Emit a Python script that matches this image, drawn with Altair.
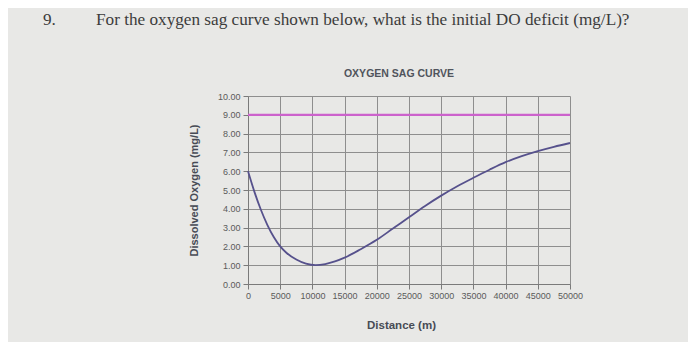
import altair as alt
import pandas as pd

# ---- data ----
distance_m = [0, 1000, 2000, 3000, 4000, 5000, 6000, 7500, 9000, 10500, 12000,
              13500, 15000, 17500, 20000, 22500, 25000, 27500, 30000, 32500,
              35000, 37500, 40000, 42500, 45000, 47500, 50000]
do_mg_l = [6.0, 4.9, 3.95, 3.15, 2.5, 2.0, 1.65, 1.3, 1.08, 1.0, 1.06,
           1.2, 1.4, 1.85, 2.35, 2.95, 3.55, 4.15, 4.7, 5.2,
           5.65, 6.08, 6.48, 6.8, 7.07, 7.3, 7.5]
saturation_do = 9.0
x_ticks = [0, 5000, 10000, 15000, 20000, 25000, 30000, 35000, 40000, 45000, 50000]
y_ticks = [0, 1, 2, 3, 4, 5, 6, 7, 8, 9, 10]
chart_title = "OXYGEN SAG CURVE"
question_number = "9."
question_text = "For the oxygen sag curve shown below, what is the initial DO deficit (mg/L)?"
x_title = "Distance (m)"
y_title = "Dissolved Oxygen (mg/L)"

BG = "#e8e8e6"
SANS = "Liberation Sans"
SERIF = "Liberation Serif"

curve_df = pd.DataFrame({"distance": distance_m, "do": do_mg_l})
sat_df = pd.DataFrame({"x": [x_ticks[0]], "x2": [x_ticks[-1]], "y": [saturation_do]})
txt_df = pd.DataFrame({"num": [question_number], "q": [question_text], "t": [chart_title]})

x_scale = alt.Scale(domain=[x_ticks[0], x_ticks[-1]], nice=False)
y_scale = alt.Scale(domain=[y_ticks[0], y_ticks[-1]], nice=False)

x_axis = alt.Axis(
    values=x_ticks, format="d", title=x_title,
    labelFont=SANS, labelFontSize=9, labelColor="#5a5a5a", labelPadding=2,
    labelOverlap=False, labelFlush=False,
    tickSize=5, tickColor="#7a7a7a", domainColor="#7a7a7a",
    gridColor="#8e8e8e", gridWidth=1,
    titleFont=SANS, titleFontSize=11.5, titleFontWeight="bold", titleColor="#474b55",
    titlePadding=19, titleX=153,
)
y_axis = alt.Axis(
    values=y_ticks, format=".2f", title=y_title,
    labelFont=SANS, labelFontSize=9, labelColor="#5a5a5a", labelPadding=3,
    labelOverlap=False, labelFlush=False,
    tickSize=5, tickColor="#7a7a7a", domainColor="#7a7a7a",
    gridColor="#8e8e8e", gridWidth=1,
    titleFont=SANS, titleFontSize=11, titleFontWeight="bold", titleColor="#474b55",
    titlePadding=18,
)

curve = alt.Chart(curve_df).mark_line(
    color="#56518c", strokeWidth=1.8, interpolate="monotone"
).encode(
    x=alt.X("distance:Q", scale=x_scale, axis=x_axis),
    y=alt.Y("do:Q", scale=y_scale, axis=y_axis),
)

sat = alt.Chart(sat_df).mark_rule(color="#cc62cc", strokeWidth=2.2).encode(
    x=alt.X("x:Q", scale=x_scale, axis=x_axis),
    x2="x2:Q",
    y=alt.Y("y:Q", scale=y_scale, axis=y_axis),
)

qnum = alt.Chart(txt_df).mark_text(
    align="left", baseline="alphabetic", font=SERIF, fontSize=17.2, color="#3c3c3c"
).encode(text="num:N", x=alt.value(-205), y=alt.value(-71))

qtext = alt.Chart(txt_df).mark_text(
    align="left", baseline="alphabetic", font=SERIF, fontSize=17.2, color="#3c3c3c"
).encode(text="q:N", x=alt.value(-152), y=alt.value(-71))

ttl = alt.Chart(txt_df).mark_text(
    align="center", baseline="middle", font=SANS, fontSize=10.5,
    fontWeight="bold", color="#50545c"
).encode(text="t:N", x=alt.value(151), y=alt.value(-22))

chart = alt.layer(curve, sat, qnum, qtext, ttl).properties(
    width=322,
    height=188,
    autosize=alt.AutoSizeParams(type="none"),
    padding={"left": 240, "top": 88, "right": 118, "bottom": 58},
).configure(background=BG).configure_view(fill=BG, strokeWidth=0)

chart.save("out.html", embed_options={"renderer": "svg", "actions": False})
